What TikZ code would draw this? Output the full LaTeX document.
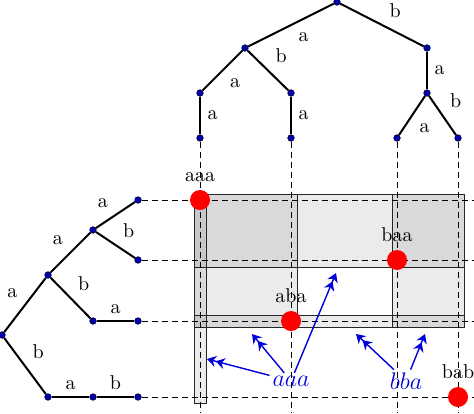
\documentclass[tikz,border=0pt]{standalone}
\usetikzlibrary{arrows.meta}
\tikzset{
  vtx/.style={circle,draw=blue!30!black,line width=0.4pt,fill=blue!70!black,inner sep=0pt,minimum size=3.2pt},
  hit/.style={circle,fill=red,inner sep=0pt,minimum size=10pt,label distance=-4.5pt},
  guide/.style={dash pattern=on 3pt off 2pt,line width=0.5pt},
  band/.style={draw=black!85,line width=0.5pt,fill=black,fill opacity=0.08},
  pointer/.style={blue!85!black,line width=0.7pt,-{Stealth[length=4.5pt,width=5.5pt]Stealth[length=4.5pt,width=5.5pt]}},
}

\begin{document}
\begin{tikzpicture}[x=0.5pt,y=-0.5pt,line width=1pt]
    \useasboundingbox (0,0) rectangle (474,413);
    \coordinate (bot) at (0,413);
    \coordinate (rgt) at (474,0);
    % top tree
    \node[vtx] (T)    at (337,  2) {};
    \node[vtx] (Ta)   at (245, 48) {};
    \node[vtx] (Tb)   at (427, 48) {};
    \node[vtx] (Taa)  at (200, 93) {};
    \node[vtx] (Tab)  at (291, 93) {};
    \node[vtx] (Tba)  at (427, 93) {};
    \node[vtx] (Taaa) at (200,138) {};
    \node[vtx] (Taba) at (291,138) {};
    \node[vtx] (Tbaa) at (397,138) {};
    \node[vtx] (Tbab) at (458,138) {};
    % left tree
    \node[vtx] (L)    at (  2,335) {};
    \node[vtx] (La)   at ( 48,275) {};
    \node[vtx] (Lb)   at ( 48,397) {};
    \node[vtx] (Laa)  at ( 93,230) {};
    \node[vtx] (Lab)  at ( 93,321) {};
    \node[vtx] (Lba)  at ( 93,397) {};
    \node[vtx] (Laaa) at (138,200) {};
    \node[vtx] (Laab) at (138,260) {};
    \node[vtx] (Laba) at (138,321) {};
    \node[vtx] (Lbab) at (138,397) {};
    \draw (T)   edge node[auto] {a} (Ta);
    \draw (T)   edge node[auto] {b} (Tb);
    \draw (Ta)  edge node[auto] {a} (Taa);
    \draw (Ta)  edge node[auto] {b} (Tab);
    \draw (Taa) edge node[auto] {a} (Taaa);
    \draw (Tab) edge node[auto] {a} (Taba);
    \draw (Tb)  edge node[auto] {a} (Tba);
    \draw (Tba) edge node[auto] {a} (Tbaa);
    \draw (Tba) edge node[auto] {b} (Tbab);
    \draw (L)   edge node[auto] {a} (La);
    \draw (L)   edge node[auto] {b} (Lb);
    \draw (La)  edge node[auto] {a} (Laa);
    \draw (La)  edge node[auto] {b} (Lab);
    \draw (Laa) edge node[auto] {a} (Laaa);
    \draw (Laa) edge node[auto] {b} (Laab);
    \draw (Lab) edge node[auto] {a} (Laba);
    \draw (Lb)  edge node[auto] {a} (Lba);
    \draw (Lba) edge node[auto] {b} (Lbab);
    % shaded bands
    \path[band] (194,194) rectangle (464,267);
    \path[band] (194,194) rectangle (297,327);
    \path[band] (392,194) rectangle (464,327);
    \path[band] (194,315) rectangle (464,327);
    \path[band] (194,194) rectangle (206,403);
    % guides
    \foreach \n in {Taaa,Taba,Tbaa,Tbab}
      \draw[guide] (\n) -- (\n |- bot);
    \foreach \n in {Laaa,Laab,Laba,Lbab}
      \draw[guide] (\n) -- (\n -| rgt);
    % hits
    \node[hit,label=above:aaa] (Haaa) at (200,200) {};
    \node[hit,label=above:aba] (Haba) at (291,321) {};
    \node[hit,label=above:baa] (Hbaa) at (397,260) {};
    \node[hit,label=above:bab] (Hbab) at (458,397) {};
    % words
    \node[blue!85!black,inner sep=1pt] (Waaa) at (291,381) {\large$aaa$};
    \node[blue!85!black,inner sep=1pt] (Wbba) at (406,381) {\large$bba$};
    \coordinate (q1) at (207,359);
    \coordinate (q2) at (252,334);
    \coordinate (q3) at (336,273);
    \coordinate (q4) at (356,334);
    \coordinate (q5) at (425,334);
    \draw[pointer] (Waaa) -- (q1);
    \draw[pointer] (Waaa) -- (q2);
    \draw[pointer] (Waaa) -- (q3);
    \draw[pointer] (Wbba) -- (q4);
    \draw[pointer] (Wbba) -- (q5);
\end{tikzpicture}
\end{document}
